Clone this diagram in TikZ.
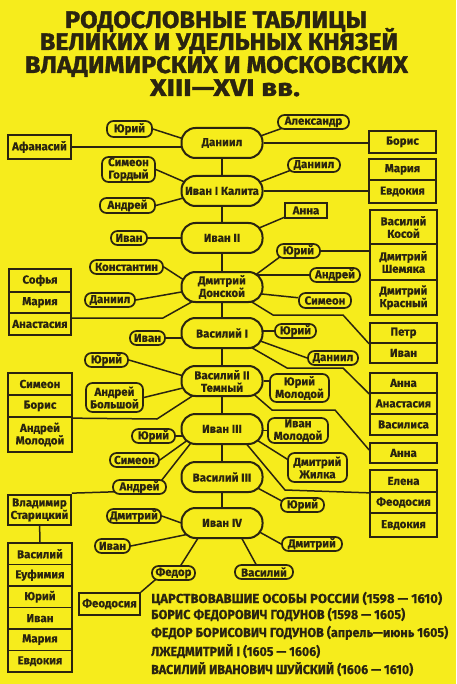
\documentclass[tikz,border=0pt]{standalone}
\usepackage{fontspec}
\usepackage{graphicx}
\setmainfont{Fira Sans}[BoldFeatures={FakeBold=0.5}]
\newfontfamily\tfont{Fira Sans}[BoldFeatures={FakeBold=1.3}]
\usetikzlibrary{calc,backgrounds}
\definecolor{bg}{HTML}{F6EC1C}
\definecolor{ink}{HTML}{2A2410}
\pgfdeclarelayer{lines}
\pgfsetlayers{background,lines,main}
\newcommand\OV[6]{\node[ov,minimum width={(#4-#2)*1pt},minimum height={(#5-#3)*1pt}] (#1) at ({(#2+#4)/2},{(#3+#5)/2}) {#6};}
\newcommand\RC[6]{\node[rc,minimum width={(#4-#2)*1pt},minimum height={(#5-#3)*1pt}] (#1) at ({(#2+#4)/2},{(#3+#5)/2}) {#6};}
\newcommand\MN[4]{\node[mn] (#1) at (#2,#3) {#4};}
\begin{document}
\begin{tikzpicture}[x=1pt,y=-1pt,
  every node/.style={font=\bfseries\fontsize{11.5}{12.5}\selectfont, text=ink, inner sep=0pt, align=center},
  ov/.style={draw=ink, line width=1.7pt, fill=bg, rounded corners=6.5pt},
  rc/.style={draw=ink, line width=1.7pt, fill=bg},
  mn/.style={draw=ink, line width=2pt, fill=bg, rounded corners=14pt, minimum width=81pt, minimum height=30pt},
  ln/.style={draw=ink, line width=1.5pt},
  ttl/.style={anchor=base, font=\tfont\bfseries\fontsize{24}{24}\selectfont},
  btm/.style={anchor=base west, font=\bfseries\fontsize{13}{13}\selectfont}]
\begin{pgfonlayer}{background}
\fill[bg] (0,0) rectangle (456,684);
\end{pgfonlayer}
\useasboundingbox (0,0) rectangle (456,684);
% title
\node[ttl] (ta) at (216,28) {\resizebox{302pt}{\height}{РОДОСЛОВНЫЕ ТАБЛИЦЫ}};
\node[ttl] (tb) at (219,50) {\resizebox{358pt}{\height}{ВЕЛИКИХ И УДЕЛЬНЫХ КНЯЗЕЙ}};
\node[ttl] (tc) at (216.5,73) {\resizebox{383pt}{\height}{ВЛАДИМИРСКИХ И МОСКОВСКИХ}};
\node[ttl] (td) at (225,96) {\resizebox{150pt}{\height}{XIII—XVI вв.}};
% main line
\MN{dan}{222}{143}{Даниил}
\MN{kal}{222}{191}{Иван I Калита}
\MN{i2}{222}{238}{Иван II}
\MN{dd}{222}{287}{Дмитрий\\Донской}
\MN{v1}{222}{333}{Василий I}
\MN{t2}{222}{381}{Василий II\\Темный}
\MN{i3}{222}{429}{Иван III}
\MN{v3}{222}{477}{Василий III}
\MN{i4}{222}{523}{Иван IV}
% ovals
\OV{yua}{107}{121}{152}{137}{Юрий}
\OV{alek}{278}{115}{349}{129}{Александр}
\OV{simg}{102}{157}{155}{182}{Симеон\\Гордый}
\OV{anda}{100}{198}{155}{213}{Андрей}
\OV{danb}{288}{158}{340}{172}{Даниил}
\OV{ivna}{111}{231}{147}{245}{Иван}
\OV{yub}{277}{244}{320}{258}{Юрий}
\OV{andb}{310}{268}{360}{282}{Андрей}
\OV{simb}{299}{293}{351}{308}{Симеон}
\OV{kon}{90}{260}{163}{274}{Константин}
\OV{danc}{85}{293}{135}{307}{Даниил}
\OV{ivnb}{130}{331}{165}{345}{Иван}
\OV{yuc}{275}{324}{316}{338}{Юрий}
\OV{dand}{308}{351}{358}{365}{Даниил}
\OV{yud}{85}{353}{128}{367}{Юрий}
\OV{andbol}{86}{383}{143}{412}{Андрей\\Большой}
\OV{yumol}{270}{374}{329}{402}{Юрий\\Молодой}
\OV{yue}{132}{429}{175}{443}{Юрий}
\OV{simc}{110}{453}{159}{467}{Симеон}
\OV{andc}{113}{480}{166}{494}{Андрей}
\OV{ivmol}{268}{418}{328}{443}{Иван\\Молодой}
\OV{zhil}{288}{453}{347}{482}{Дмитрий\\Жилка}
\OV{yuf}{281}{498}{324}{512}{Юрий}
\OV{dmia}{107}{509}{161}{523}{Дмитрий}
\OV{ivnc}{95}{539}{130}{553}{Иван}
\OV{fed}{152}{566}{195}{580}{Федор}
\OV{dmib}{282}{537}{342}{551}{Дмитрий}
\OV{vas}{235}{565}{293}{579}{Василий}
% rectangles
\RC{afan}{8}{135}{71}{159}{Афанасий}
\RC{bor}{369}{131}{436}{153}{Борис}
\RC{mara}{369}{159}{436}{180}{Мария}
\RC{evda}{369}{180}{436}{203}{Евдокия}
\RC{anna}{285}{203}{327}{218}{Анна}
\RC{kos}{370}{210}{437}{244}{Василий\\Косой}
\RC{shem}{370}{244}{437}{280}{Дмитрий\\Шемяка}
\RC{kras}{370}{280}{437}{315}{Дмитрий\\Красный}
\RC{sof}{9}{269}{71}{292}{Софья}
\RC{marb}{9}{292}{71}{313}{Мария}
\RC{anas}{9}{313}{71}{335}{Анастасия}
\RC{petr}{370}{323}{437}{343}{Петр}
\RC{ivnr}{370}{343}{437}{363}{Иван}
\RC{annb}{370}{373}{437}{393}{Анна}
\RC{anasb}{370}{393}{437}{414}{Анастасия}
\RC{vasil}{370}{414}{437}{435}{Василиса}
\RC{sim}{8}{373}{72}{395}{Симеон}
\RC{borb}{8}{395}{72}{417}{Борис}
\RC{andmol}{8}{417}{72}{452}{Андрей\\Молодой}
\RC{annc}{370}{443}{437}{463}{Анна}
\RC{elen}{370}{470}{437}{492}{Елена}
\RC{feoa}{370}{492}{437}{513}{Феодосия}
\RC{evdb}{370}{513}{437}{537}{Евдокия}
\RC{vlst}{8}{495}{71}{525}{Владимир\\Старицкий}
\RC{vasb}{8}{543}{72}{564.5}{Василий}
\RC{euf}{8}{564.5}{72}{586}{Еуфимия}
\RC{yug}{8}{586}{72}{607.5}{Юрий}
\RC{ivng}{8}{607.5}{72}{629}{Иван}
\RC{marc}{8}{629}{72}{650.5}{Мария}
\RC{evdc}{8}{650.5}{72}{672}{Евдокия}
\RC{feob}{79}{593}{140}{615}{Феодосия}
% bottom text
\node[btm] (ba) at (151,603) {\resizebox{291pt}{\height}{ЦАРСТВОВАВШИЕ ОСОБЫ РОССИИ (1598 — 1610)}};
\node[btm] (bb) at (151,619) {\resizebox{254pt}{\height}{БОРИС ФЕДОРОВИЧ ГОДУНОВ (1598 — 1605)}};
\node[btm] (bc) at (151,637) {\resizebox{297pt}{\height}{ФЕДОР БОРИСОВИЧ ГОДУНОВ (апрель—июнь 1605)}};
\node[btm] (bd) at (151,656) {\resizebox{169pt}{\height}{ЛЖЕДМИТРИЙ I (1605 — 1606)}};
\node[btm] (be) at (151,674) {\resizebox{262pt}{\height}{ВАСИЛИЙ ИВАНОВИЧ ШУЙСКИЙ (1606 — 1610)}};
% connectors
\begin{pgfonlayer}{lines}
\draw[ln] (dan) -- (kal) -- (i2) -- (dd) -- (v1) -- (t2) -- (i3) -- (v3) -- (i4);
\draw[ln] (yua.east) -- ($(dan)+(-35,-3)$);
\draw[ln] (afan.east) -- (afan.east -| dan);
\draw[ln] ($(dan)+(30,-4)$) -- ($(alek)+(-25,4)$);
\draw[ln] (dan) -- (dan -| bor.west);
\draw[ln] (simg.east) -- ($(kal)+(-35,-8)$);
\draw[ln] (anda.east) -- ($(kal)+(-35,6)$);
\draw[ln] ($(kal)+(30,-6)$) -- ($(danb)+(-20,4)$);
\draw[ln] (kal) -- (kal -| evda.west);
\draw[ln] (ivna) -- (i2);
\draw[ln] ($(i2)+(30,-7)$) -- ($(anna)+(-15,4)$);
\draw[ln] ($(dd)+(28,-8)$) -- ($(yub)+(-16,4)$);
\draw[ln] (yub) -- (yub -| shem.west);
\draw[ln] (andb) -- (andb -| dd);
\draw[ln] ($(dd)+(30,6)$) -- (simb);
\draw[ln] ($(dd)+(25,12)$) -- (273,315) -- (343,315) -- (petr.south west);
\draw[ln] (kon.east) -- ($(dd)+(-35,-5)$);
\draw[ln] (danc.east) -- ($(dd)+(-35,4)$);
\draw[ln] ($(dd)+(-25,12)$) -- (163,318) -- ($(anas.east)+(0,-6)$);
\draw[ln] (ivnb) -- (ivnb -| v1);
\draw[ln] (yuc) -- (yuc -| v1);
\draw[ln] ($(v1)+(30,5)$) -- (dand.west);
\draw[ln] ($(v1)+(25,12)$) -- (287,368) -- (343,368) -- (annb.south west);
\draw[ln] (yud.east) -- ($(t2)+(-35,-4)$);
\draw[ln] (andbol.east) -- ($(t2)+(-35,6)$);
\draw[ln] ($(t2)+(-25,12)$) -- (157,419) -- ($(andmol.north east)+(0,2)$);
\draw[ln] (t2) -- (t2 -| yumol);
\draw[ln] ($(t2)+(28,10)$) -- (272,410) -- (335,410) -- ($(annc.west)+(0,-3)$);
\draw[ln] (yue) -- (yue -| i3);
\draw[ln] (simc.east) -- ($(i3)+(-30,8)$);
\draw[ln] ($(andc)+(20,-4)$) -- ($(i3)+(-28,10)$);
\draw[ln] ($(andc)+(0,4)$) -- ($(vlst.north east)+(0,-1)$);
\draw[ln] (ivmol) -- (ivmol -| i3);
\draw[ln] ($(i3)+(30,8)$) -- ($(zhil)+(-25,-5)$);
\draw[ln] ($(i3)+(22,12)$) -- (285,490) -- (elen.south west);
\draw[ln] ($(v3)+(30,8)$) -- ($(yuf)+(-17,-2)$);
\draw[ln] (dmia.east) -- ($(i4)+(-35,2)$);
\draw[ln] (ivnc.east) -- ($(i4)+(-28,10)$);
\draw[ln] ($(fed)+(5,-4)$) -- ($(i4)+(-22,12)$);
\draw[ln] (feob.north east) -- ($(fed)+(-15,4)$);
\draw[ln] ($(i4)+(32,6)$) -- (dmib.west);
\draw[ln] ($(vas)+(-6,-4)$) -- ($(i4)+(18,12)$);
\draw[ln] (vlst) -- (vasb);
\end{pgfonlayer}
\end{tikzpicture}
\end{document}
